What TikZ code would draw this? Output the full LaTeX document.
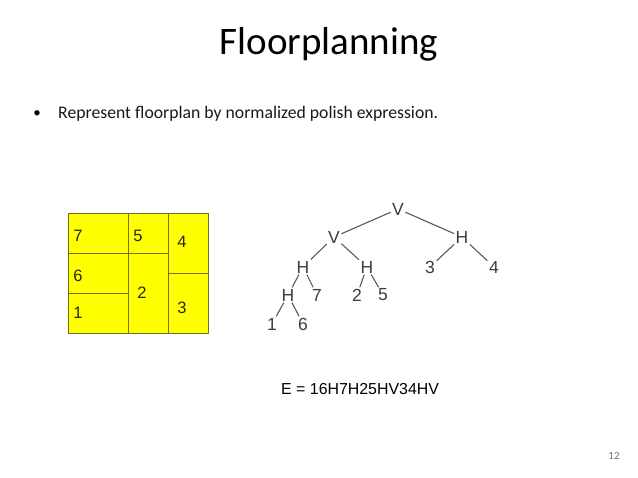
\documentclass[tikz,border=0pt]{standalone}
\usepackage{fontspec}
\setmainfont{Carlito}
\newfontfamily\arialf{Liberation Sans}
\definecolor{edgeg}{RGB}{90,90,90}
\definecolor{treeg}{RGB}{60,60,60}
\definecolor{boxl}{RGB}{110,110,40}
\definecolor{cellfill}{RGB}{255,255,0}
\tikzset{
 px/.style={x=1pt,y=-1pt},
 cell/.style={fill=cellfill,draw=boxl,line width=1pt,inner sep=0pt},
 cellnum/.style={font=\arialf\fontsize{16.5}{16}\selectfont,text=black!85,inner sep=0pt},
 tnode/.style={font=\arialf\fontsize{17.5}{17}\selectfont,text=treeg,inner sep=1.4pt,minimum size=13pt},
 tedge/.style={draw=edgeg,line width=1.1pt}
}
\begin{document}
\begin{tikzpicture}[px]
\useasboundingbox (0,0) rectangle (638,478);
\fill[white] (0,0) rectangle (638,478);
\node[font=\fontsize{39}{39}\selectfont,text=black,inner sep=0pt] (title) at (329,44) {Floorplanning};
\node[font=\fontsize{15}{18}\selectfont,text=black,inner sep=0pt] (bullet) at (37,114) {•};
\node[font=\fontsize{17.7}{18}\selectfont,text=black!90,inner sep=0pt,anchor=west] (body) at (58,114) {Represent floorplan by normalized polish expression.};
% floorplan
\path[cell] (68,214) rectangle (208,334);
\path[cell] (128,214) -- (128,334) (168,214) -- (168,334) (68,254) -- (168,254) (68,294) -- (128,294) (168,274) -- (208,274);
\node[cellnum] (c7) at (78,236) {7};
\node[cellnum] (c5) at (138,236) {5};
\node[cellnum] (c4) at (182,242) {4};
\node[cellnum] (c6) at (78,276) {6};
\node[cellnum] (c2) at (142,293) {2};
\node[cellnum] (c1) at (78,313) {1};
\node[cellnum] (c3) at (182,308) {3};
% tree
\node[tnode] (r) at (398,209) {V};
\node[tnode] (v) at (334,237) {V};
\node[tnode] (h) at (462,237) {H};
\node[tnode] (ha) at (303,267) {H};
\node[tnode] (hb) at (367,267) {H};
\node[tnode] (n3) at (430,267) {3};
\node[tnode] (n4) at (494,267) {4};
\node[tnode] (hc) at (288,295) {H};
\node[tnode] (n7) at (317,295) {7};
\node[tnode] (n2) at (357,295) {2};
\node[tnode] (n5) at (383,295) {5};
\node[tnode] (n1) at (272,324) {1};
\node[tnode] (n6) at (303,324) {6};
\foreach \a/\b in {r/v,r/h,v/ha,v/hb,h/n3,h/n4,ha/hc,ha/n7,hb/n2,hb/n5,hc/n1,hc/n6}
  \draw[tedge] (\a) -- (\b);
\node[font=\arialf\fontsize{15.9}{16}\selectfont,text=black,inner sep=0pt,anchor=west] (expr) at (281,389) {E = 16H7H25HV34HV};
\node[font=\fontsize{11}{11}\selectfont,text=black!55,inner sep=0pt] (page) at (614,456) {12};
\end{tikzpicture}
\end{document}
